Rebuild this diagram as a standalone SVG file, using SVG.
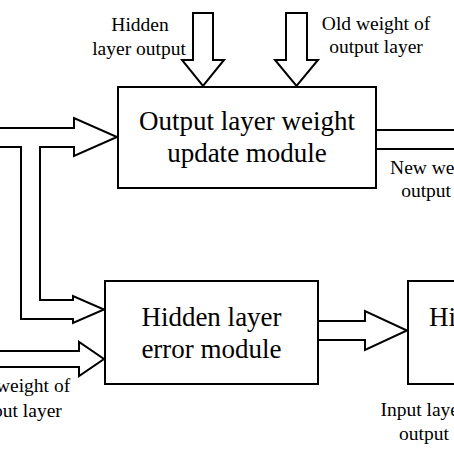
<svg xmlns="http://www.w3.org/2000/svg" width="454" height="454" viewBox="0 0 454 454">
<style>
.box{fill:#fff;stroke:#000;stroke-width:2}
.arr{fill:#fff;stroke:#000;stroke-width:2;stroke-linejoin:miter}
.ln{fill:none;stroke:#000;stroke-width:2}
.big{font-family:"Liberation Serif","Times New Roman",serif;font-size:27px;fill:#000;text-anchor:middle}
.sm{font-family:"Liberation Serif","Times New Roman",serif;font-size:19.5px;fill:#000;text-anchor:middle}
</style>
<rect width="454" height="454" fill="#fff"/>
<g id="connectors">
<path class="arr" d="M193,13 H213 V60 H224 L203,86 L182,60 H193 Z"/>
<path class="arr" d="M286,13 H307 V60 H318 L296.5,86 L275,60 H286 Z"/>
<path class="arr" d="M0,128 H74 V118 L117,137 L74,156 V147 H40 V300 H73 V296 L104,309.5 L73,323 V319 H21 V147 H0"/>
<path class="arr" d="M0,351 H79 V342 L104,359 L79,376 V367 H0"/>
<path class="arr" d="M318,321 H365 V311 L407,330.5 L365,350 V340 H318"/>
<path class="ln" d="M376,130 H454 M376,149 H454"/>
</g>
<g id="label-hidden-output">
<text class="sm" x="140" y="31">Hidden</text>
<text class="sm" x="139" y="55">layer output</text>
</g>
<g id="label-old-weight-top">
<text class="sm" x="376" y="30">Old weight of</text>
<text class="sm" x="376" y="53">output layer</text>
</g>
<g id="node-output-update">
<rect class="box" x="118" y="87" width="258" height="101"/>
<text class="big" x="247" y="130">Output layer weight</text>
<text class="big" x="247" y="162">update module</text>
</g>
<g id="label-new-weight">
<text class="sm" x="448" y="174">New weight of</text>
<text class="sm" x="448" y="197">output layer</text>
</g>
<g id="node-hidden-error">
<rect class="box" x="105" y="281" width="213" height="103"/>
<text class="big" x="211.5" y="326">Hidden layer</text>
<text class="big" x="211.5" y="358">error module</text>
</g>
<g id="node-hidden-update">
<rect class="box" x="408" y="281" width="60" height="103"/>
<text class="big" x="429" y="326" style="text-anchor:start">Hidden layer</text>
</g>
<g id="label-old-weight-bottom">
<text class="sm" x="16" y="392">Old weight of</text>
<text class="sm" x="15" y="417">output layer</text>
</g>
<g id="label-input-output">
<text class="sm" x="423" y="416">Input layer</text>
<text class="sm" x="424" y="440">output</text>
</g>
</svg>
